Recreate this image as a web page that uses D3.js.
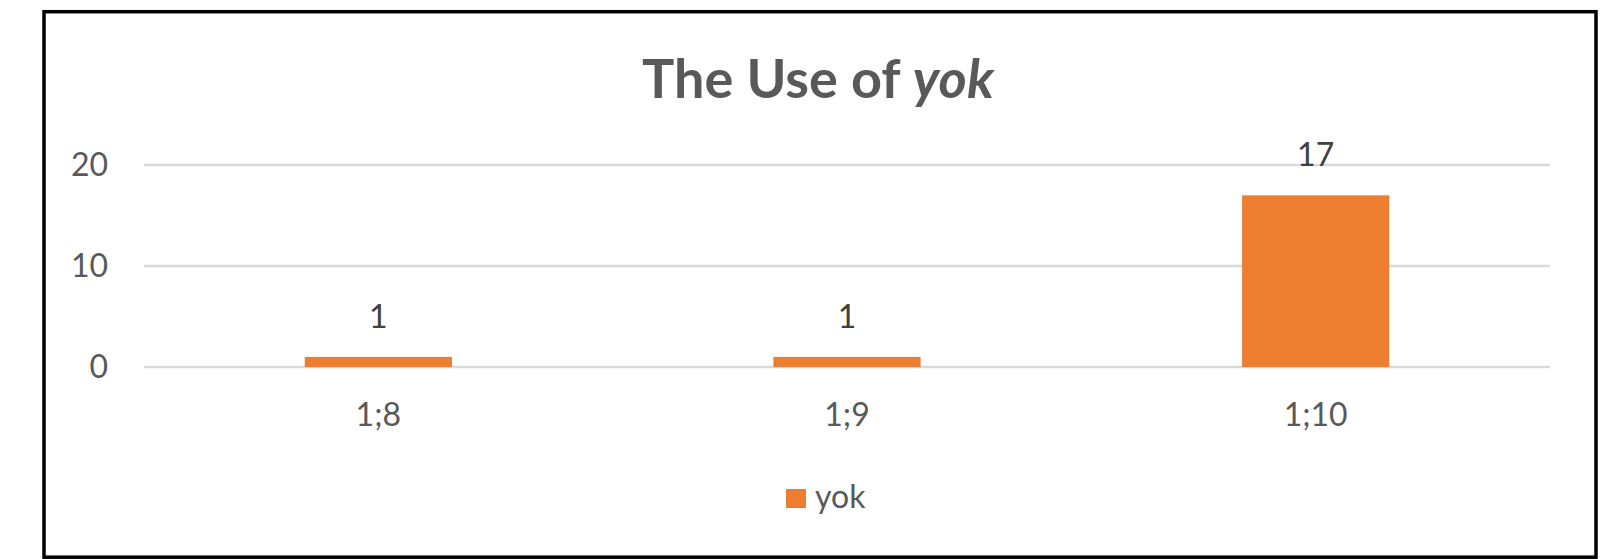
<!DOCTYPE html>
<html>
<head>
<meta charset="utf-8">
<script src="https://cdn.jsdelivr.net/npm/d3@7"></script>
<style>
  html, body { margin: 0; padding: 0; background: #fff; }
  svg { display: block; }
  text { font-family: Lato, "Open Sans", sans-serif; }
</style>
</head>
<body>
<svg id="chart" width="1621" height="559"></svg>
<script>
const categories = ["1;8", "1;9", "1;10"];
const seriesName = "yok";
const values = [1, 1, 17];
const yTicks = [0, 10, 20];

const svg = d3.select("#chart");
const W = 1621, H = 559;

svg.append("rect").attr("x", 0).attr("y", 0).attr("width", W).attr("height", H).attr("fill", "#fff");

// chart border
svg.append("rect")
  .attr("x", 44).attr("y", 11.7)
  .attr("width", 1552).attr("height", 545.5)
  .attr("fill", "none").attr("stroke", "#000").attr("stroke-width", 3.5);

const x = d3.scaleBand().domain(categories).range([144, 1550]).paddingInner(0.686).paddingOuter(0.343);
const y = d3.scaleLinear().domain([0, 20]).range([367, 165]);

// gridlines
svg.append("g").selectAll("line").data(yTicks).join("line")
  .attr("x1", 144).attr("x2", 1550)
  .attr("y1", d => y(d)).attr("y2", d => y(d))
  .attr("stroke", "#d9d9d9").attr("stroke-width", 2.5);

// y-axis labels
svg.append("g").selectAll("text").data(yTicks).join("text")
  .attr("x", 108).attr("y", d => y(d) + 11)
  .attr("text-anchor", "end")
  .attr("font-size", 32).attr("fill", "#595959")
  .text(d => d);

// bars
svg.append("g").selectAll("rect").data(values).join("rect")
  .attr("x", (d, i) => x(categories[i]))
  .attr("width", x.bandwidth())
  .attr("y", d => y(d))
  .attr("height", d => y(0) - y(d))
  .attr("fill", "#ED7D31");

// data labels
svg.append("g").selectAll("text").data(values).join("text")
  .attr("x", (d, i) => x(categories[i]) + x.bandwidth() / 2)
  .attr("y", d => y(d) - 29)
  .attr("text-anchor", "middle")
  .attr("font-size", 32).attr("fill", "#404040")
  .text(d => d);

// category labels
svg.append("g").selectAll("text").data(categories).join("text")
  .attr("x", d => x(d) + x.bandwidth() / 2)
  .attr("y", 426)
  .attr("text-anchor", "middle")
  .attr("font-size", 32).attr("fill", "#595959")
  .text(d => d);

// title
const title = svg.append("text")
  .attr("x", 818).attr("y", 98)
  .attr("text-anchor", "middle")
  .attr("font-size", 54).attr("font-weight", "bold").attr("fill", "#595959");
title.append("tspan").text("The Use of ");
title.append("tspan").attr("font-style", "italic").text(seriesName);

// legend
svg.append("rect").attr("x", 786).attr("y", 489).attr("width", 20).attr("height", 19).attr("fill", "#ED7D31");
svg.append("text").attr("x", 815).attr("y", 508)
  .attr("font-size", 32).attr("fill", "#595959").text(seriesName);
</script>
</body>
</html>
